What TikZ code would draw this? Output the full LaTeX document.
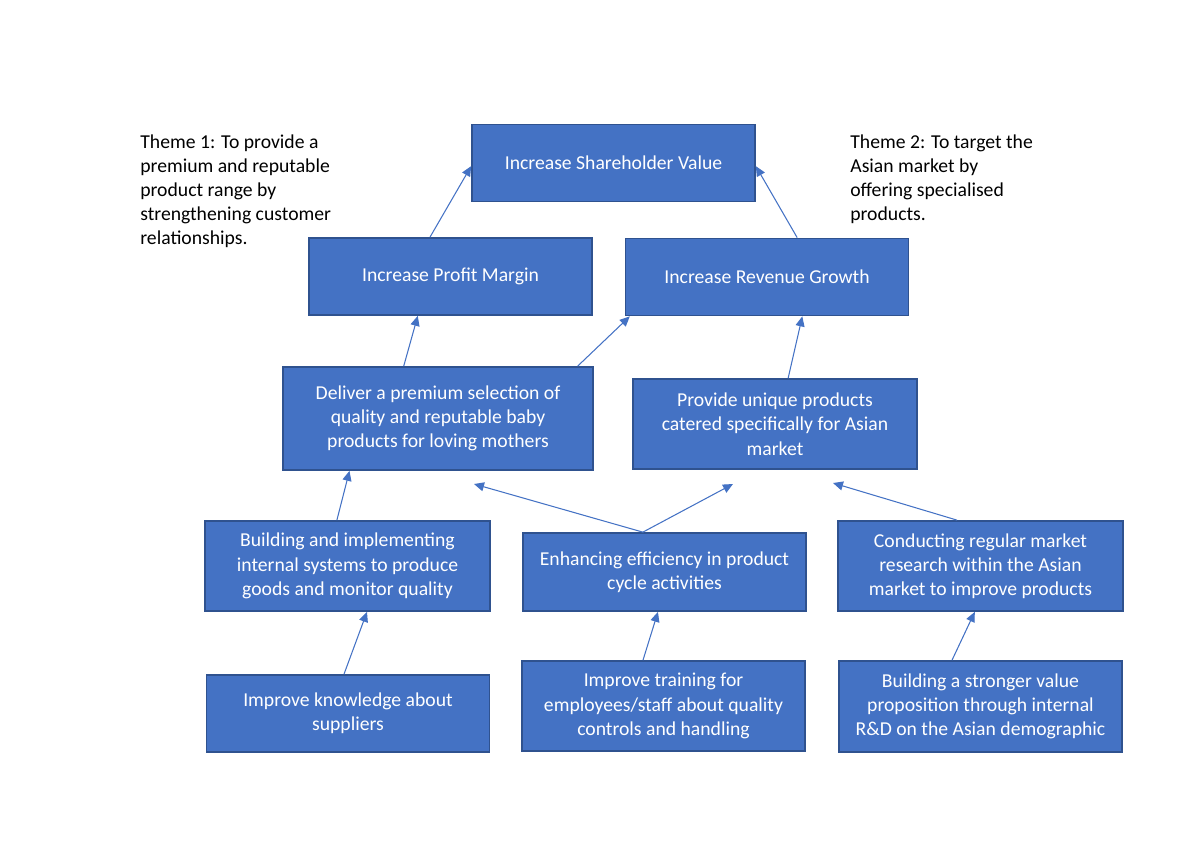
\documentclass[tikz,border=0pt]{standalone}
\usepackage{fontspec}
\setmainfont{Carlito}
\usepackage{tikz}
\usetikzlibrary{arrows.meta,positioning,calc}
\definecolor{boxblue}{HTML}{4472C4}
\definecolor{boxline}{HTML}{2F528F}

\begin{document}
\begin{tikzpicture}[
    x=0.02cm, y=-0.02cm,
    font=\fontsize{11.2}{13.8}\selectfont,
    box/.style={draw=boxline, line width=1pt, rectangle, minimum width=5.66cm, minimum height=1.54cm, align=center, fill=boxblue, text=white, inner sep=2pt},
    theme/.style={anchor=north west, align=left, inner sep=0pt},
    arrow/.style={-{Triangle[length=0.2cm, width=0.18cm]}, draw=boxblue, line width=0.6pt}
]
\useasboundingbox (0,0) rectangle (1200,848);

% Themes
\node[theme] (th1) at (140,134) {Theme 1: To provide a\\premium and reputable\\product range by\\strengthening customer\\relationships.};
\node[theme] (th2) at (850,134) {Theme 2: To target the\\Asian market by\\offering specialised\\products.};

% Top levels
\node[box] (sv) at (613.5,163) {Increase Shareholder Value};
\node[box] (pm) at (450.5,276.5) {Increase Profit Margin};
\node[box] (rg) at (767,277) {Increase Revenue Growth};

% Customer level
\node[box, minimum width=6.2cm, minimum height=2.06cm] (deliver) at (438,418.5) {Deliver a premium selection of\\quality and reputable baby\\products for loving mothers};
\node[box, minimum width=5.68cm, minimum height=1.8cm] (unique) at (775,424) {Provide unique products\\catered specifically for Asian\\market};

% Process level
\node[box, minimum width=5.7cm, minimum height=1.8cm] (build) at (347.5,566) {Building and implementing\\internal systems to produce\\goods and monitor quality};
\node[box, minimum height=1.56cm] (enhance) at (664.5,572) {Enhancing efficiency in product\\cycle activities};
\node[box, minimum width=5.7cm, minimum height=1.8cm] (research) at (980.5,566) {Conducting regular market\\research within the Asian\\market to improve products};

% Learning level
\node[box] (know) at (348,713.5) {Improve knowledge about\\suppliers};
\node[box, minimum height=1.8cm] (train) at (663.5,706) {Improve training for\\employees/staff about quality\\controls and handling};
\node[box, minimum height=1.82cm] (rnd) at (980.5,706.5) {Building a stronger value\\proposition through internal\\R\&D on the Asian demographic};

% Free ends
\coordinate (tipA) at (474,484);
\coordinate (tipB) at (733,484);
\coordinate (tipC) at (833,483);

% Arrows
\draw[arrow] ($(pm.north west)!0.428!(pm.north east)$) -- ($(sv.north west)!0.54!(sv.south west)$);
\draw[arrow] ($(rg.north west)!0.606!(rg.north east)$) -- ($(sv.north east)!0.54!(sv.south east)$);
\draw[arrow] ($(deliver.north west)!0.39!(deliver.north east)$) -- ($(pm.south west)!0.385!(pm.south east)$);
\draw[arrow] ($(deliver.north west)!0.948!(deliver.north east)$) -- ($(rg.south west)!0.018!(rg.south east)$);
\draw[arrow] ($(unique.north west)!0.546!(unique.north east)$) -- ($(rg.south west)!0.624!(rg.south east)$);
\draw[arrow] ($(build.north west)!0.463!(build.north east)$) -- ($(deliver.south west)!0.216!(deliver.south east)$);
\draw[arrow] ($(enhance.north west)!0.424!(enhance.north east)$) -- (tipA);
\draw[arrow] ($(enhance.north west)!0.424!(enhance.north east)$) -- (tipB);
\draw[arrow] ($(research.north west)!0.418!(research.north east)$) -- (tipC);
\draw[arrow] ($(know.north west)!0.486!(know.north east)$) -- ($(build.south west)!0.568!(build.south east)$);
\draw[arrow] ($(train.north west)!0.428!(train.north east)$) -- ($(enhance.south west)!0.477!(enhance.south east)$);
\draw[arrow] ($(rnd.north west)!0.40!(rnd.north east)$) -- ($(research.south west)!0.48!(research.south east)$);

\end{tikzpicture}
\end{document}
